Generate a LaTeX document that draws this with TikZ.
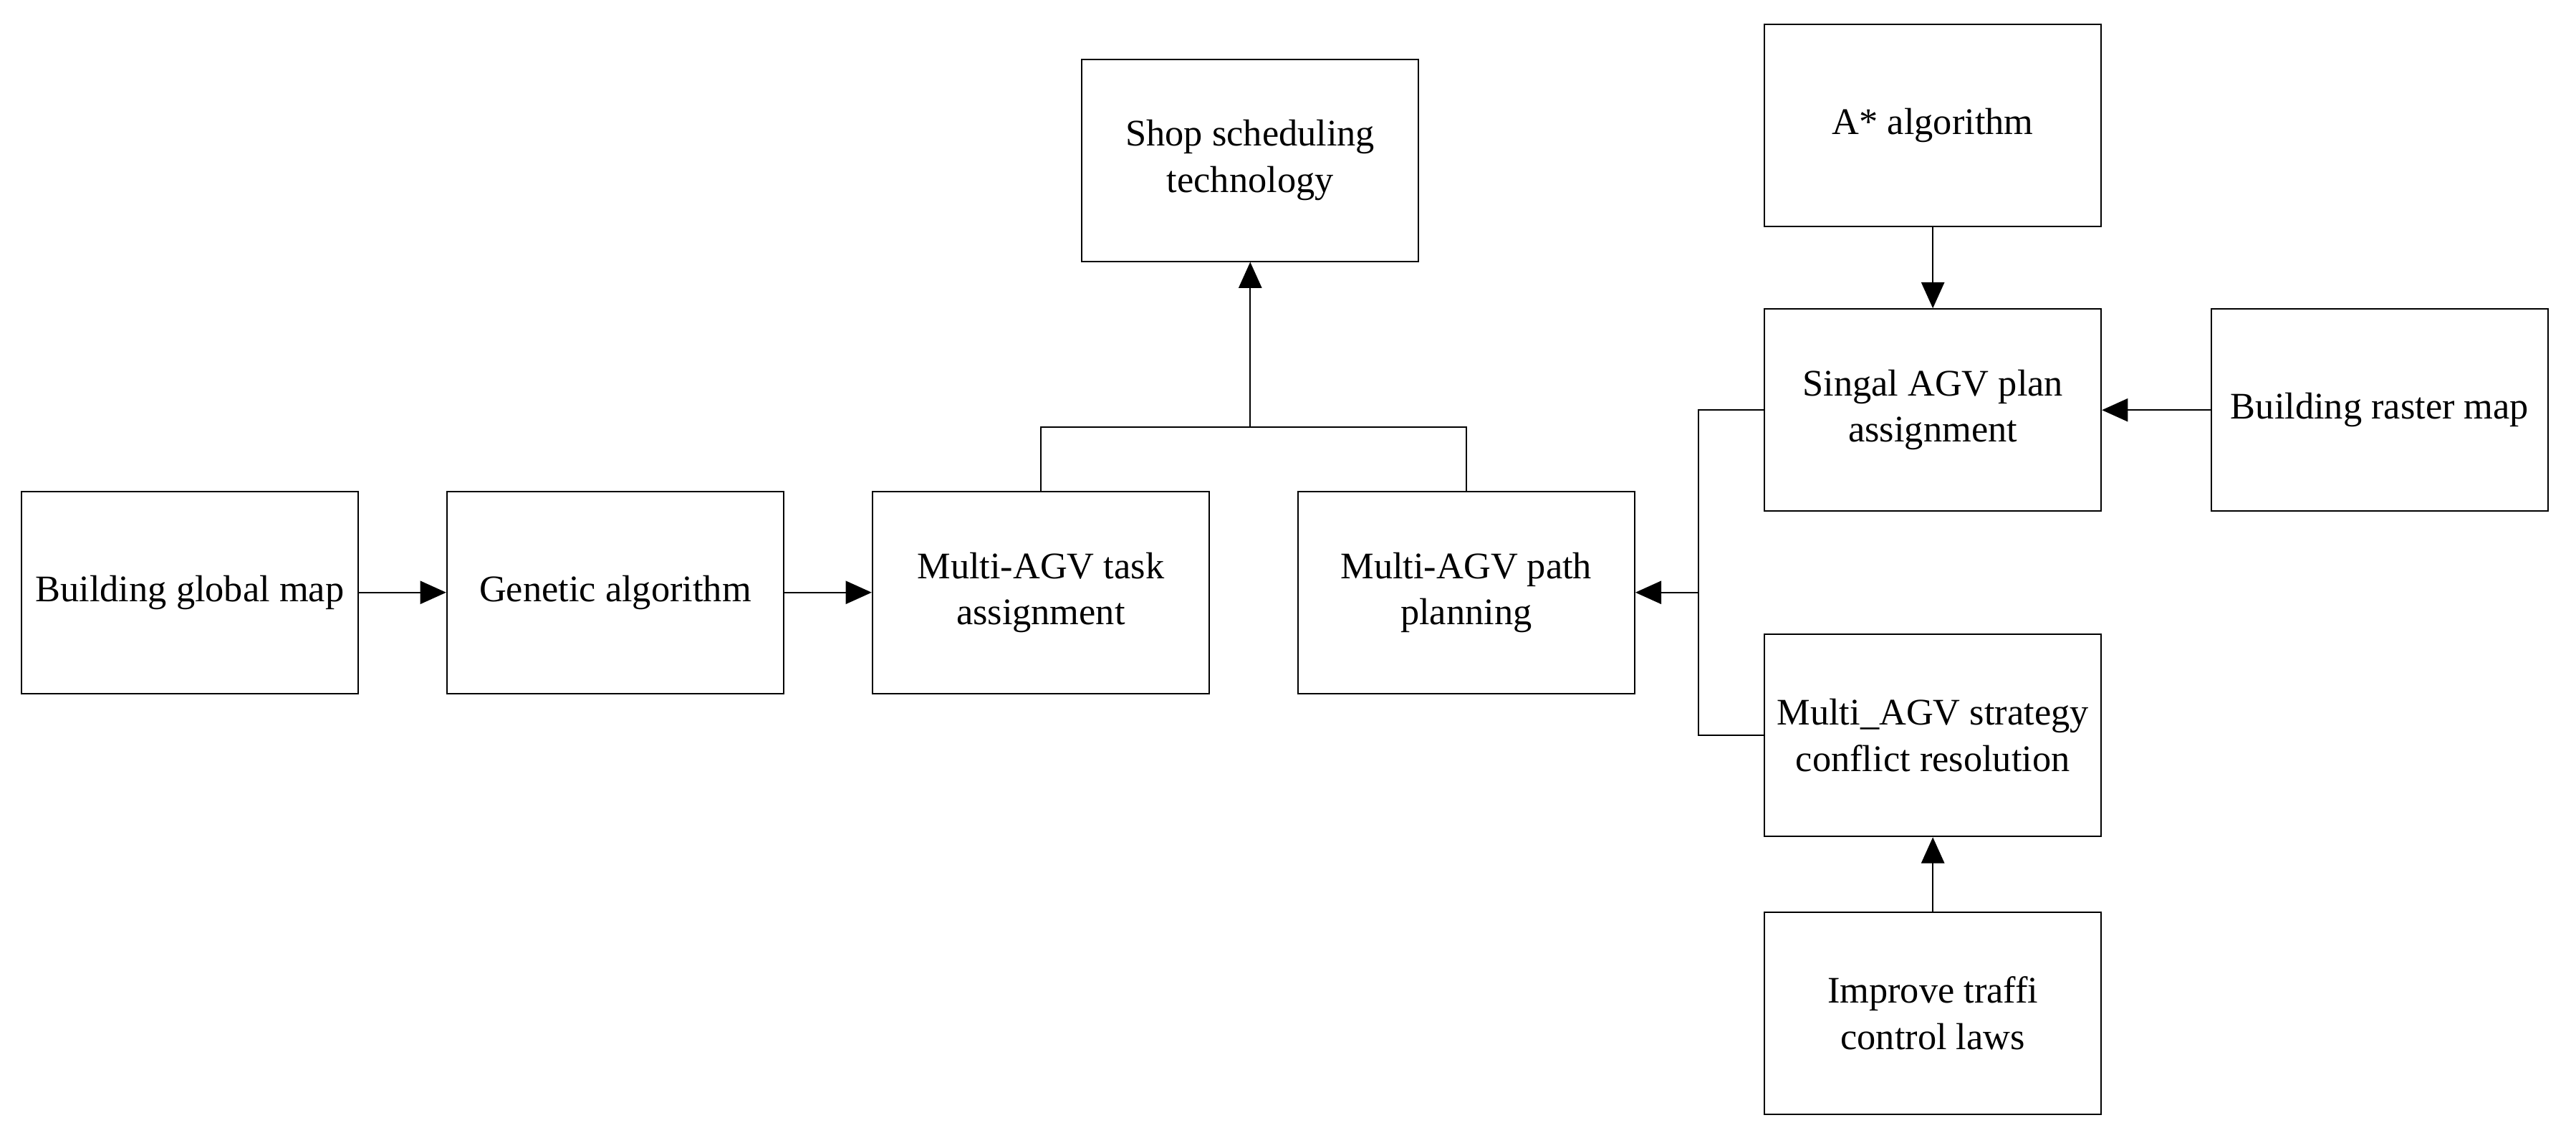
\documentclass[tikz,border=0pt]{standalone}
\usepackage{fontspec}
\setmainfont{Liberation Serif}
\usetikzlibrary{arrows.meta}
\begin{document}
\begin{tikzpicture}[x=0.02cm,y=-0.02cm,
  box/.style={draw,line width=0.5pt,minimum width=4.1cm,minimum height=2.46cm,align=center,inner sep=2pt,font=\fontsize{13}{16}\selectfont},
  arr/.style={-{Triangle[length=9pt,width=8pt]},line width=0.5pt},
  ln/.style={line width=0.5pt}]
\useasboundingbox (0,0) rectangle (1568,692);
\node[box] (gm) at (115.5,360.5) {Building global map};
\node[box] (ga) at (374.5,360.5) {Genetic algorithm};
\node[box] (ta) at (633.5,360.5) {Multi-AGV task\\assignment};
\node[box] (pp) at (892.5,360.5) {Multi-AGV path\\planning};
\node[box] (ss) at (761,97.5) {Shop scheduling\\technology};
\node[box] (as) at (1176.5,76.5) {A* algorithm};
\node[box] (sa) at (1176.5,249.5) {Singal AGV plan\\assignment};
\node[box] (rm) at (1448.5,249.5) {Building raster map};
\node[box] (cr) at (1176.5,447.5) {Multi\_AGV strategy\\conflict resolution};
\node[box] (tl) at (1176.5,616.5) {Improve traffi\\control laws};
\coordinate (top) at (761,260);
\coordinate (jn) at (1034,360.5);
\draw[arr] (gm) -- (ga);
\draw[arr] (ga) -- (ta);
\draw[ln] (ta.north) |- (top) -| (pp.north);
\draw[arr] (top) -- (ss.south);
\draw[arr] (as) -- (sa);
\draw[arr] (rm) -- (sa);
\draw[arr] (tl) -- (cr);
\draw[ln] (sa.west) -| (jn) |- (cr.west);
\draw[arr] (jn) -- (pp.east);
\end{tikzpicture}
\end{document}
